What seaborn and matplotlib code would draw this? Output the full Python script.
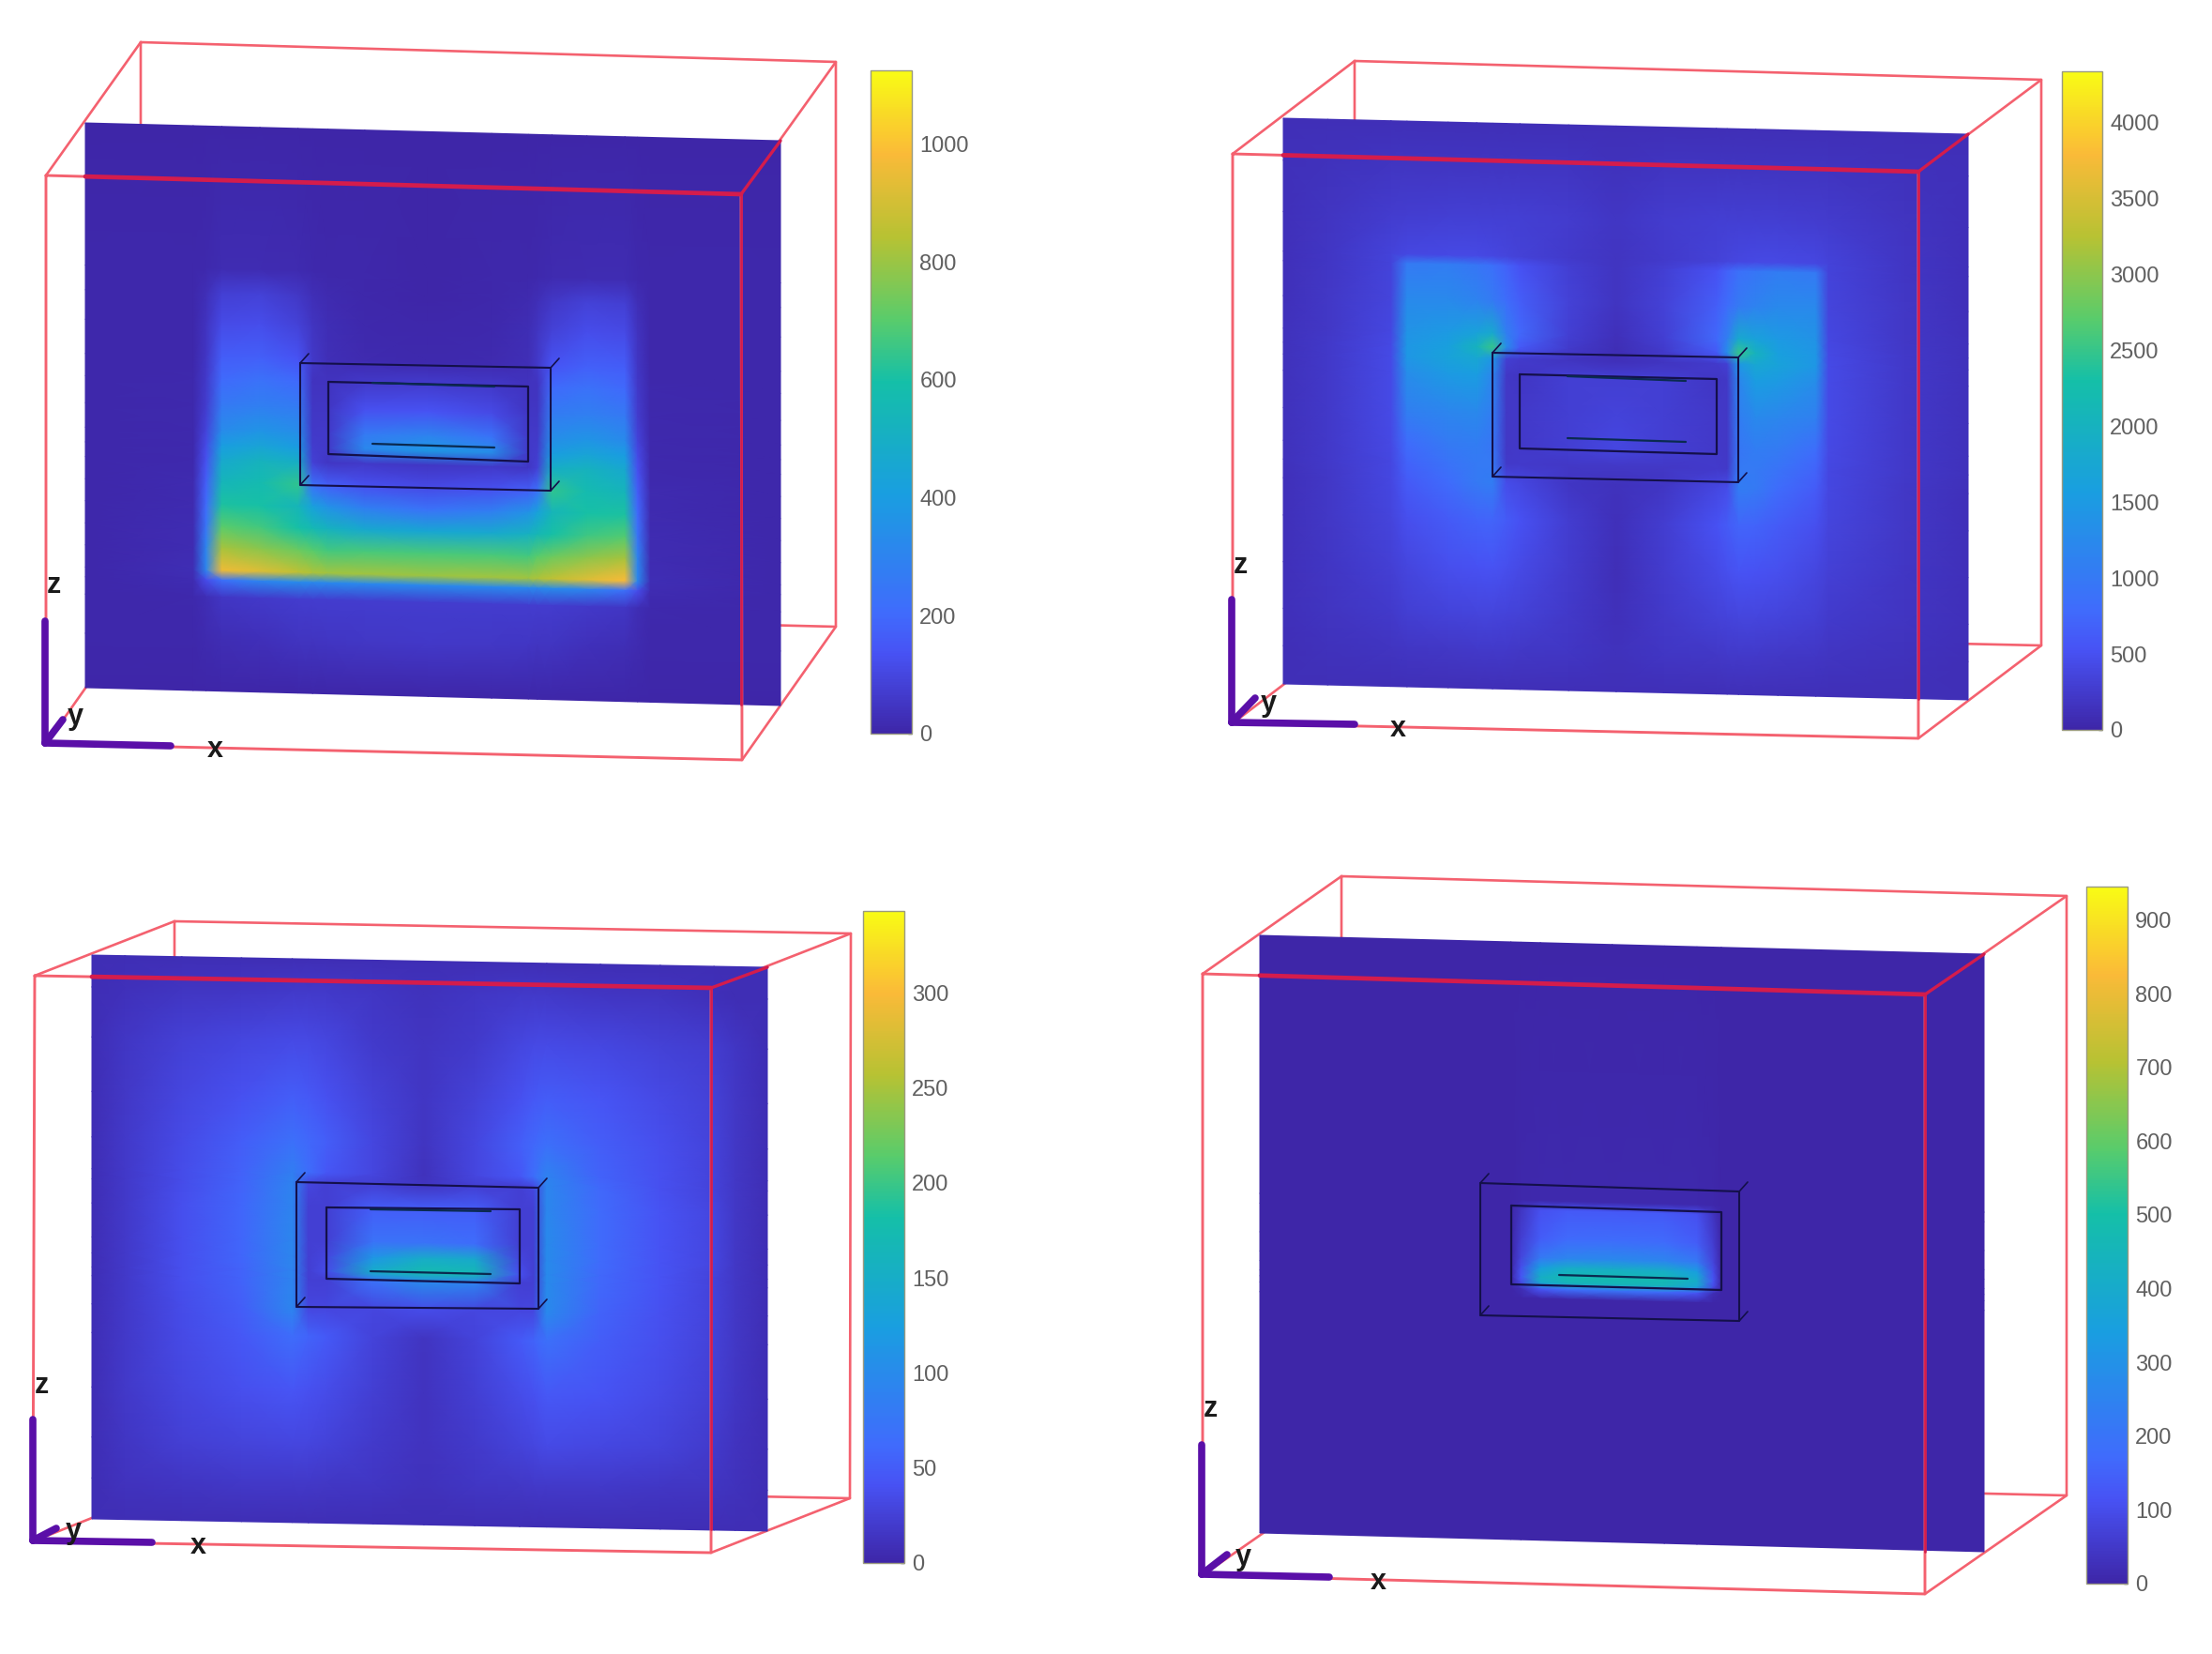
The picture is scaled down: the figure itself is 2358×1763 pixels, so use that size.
import matplotlib
matplotlib.use("Agg")
import matplotlib.pyplot as plt
import matplotlib.transforms as mtransforms
from matplotlib.colors import LinearSegmentedColormap
import numpy as np
import seaborn as sns

# 1. DATA (fields, rows top to bottom, sample spots in slice units)
p1_x = [0, 170, 190, 215, 275, 335, 358, 382, 440, 540, 640, 698, 712, 735, 790, 850, 870, 890, 1095]
p1_z = [0, 290, 340, 400, 470, 515, 570, 620, 650, 680, 725, 770, 815, 860, 905, 925, 960, 1040, 1151]
p1_field = [
    [3, 3, 3, 3, 3, 3, 3, 3, 3, 3, 3, 3, 3, 3, 3, 3, 3, 3, 3],
    [5, 8, 12, 20, 20, 14, 10, 8, 5, 3, 5, 8, 10, 14, 20, 20, 12, 8, 5],
    [5, 8, 30, 75, 85, 55, 30, 15, 5, 3, 5, 15, 30, 55, 85, 75, 30, 8, 5],
    [5, 8, 40, 110, 120, 85, 45, 25, 10, 5, 10, 25, 45, 85, 120, 110, 40, 8, 5],
    [5, 8, 50, 165, 175, 140, 60, 30, 15, 10, 15, 30, 60, 140, 175, 165, 50, 8, 5],
    [5, 10, 60, 200, 230, 200, 40, 40, 60, 70, 60, 40, 40, 200, 230, 200, 60, 10, 5],
    [5, 10, 70, 260, 290, 270, 50, 50, 130, 140, 110, 50, 50, 270, 290, 260, 70, 10, 5],
    [5, 10, 90, 330, 370, 340, 60, 60, 260, 300, 240, 60, 60, 340, 370, 330, 90, 10, 5],
    [5, 10, 110, 400, 440, 400, 70, 60, 320, 380, 340, 60, 70, 400, 440, 400, 110, 10, 5],
    [5, 12, 130, 470, 520, 500, 80, 50, 60, 50, 60, 50, 80, 500, 520, 470, 130, 12, 5],
    [5, 15, 170, 540, 570, 640, 220, 170, 130, 110, 130, 170, 220, 640, 570, 540, 170, 15, 5],
    [5, 15, 200, 610, 600, 540, 420, 360, 280, 230, 280, 360, 420, 540, 600, 610, 200, 15, 5],
    [5, 18, 240, 700, 670, 600, 560, 520, 470, 450, 470, 510, 550, 600, 660, 690, 240, 18, 5],
    [5, 20, 300, 820, 780, 730, 700, 670, 680, 680, 680, 670, 700, 730, 780, 820, 300, 20, 5],
    [5, 25, 300, 960, 920, 860, 830, 810, 810, 800, 810, 810, 830, 860, 920, 980, 320, 25, 5],
    [5, 20, 120, 220, 300, 330, 320, 320, 320, 320, 320, 320, 320, 330, 300, 220, 120, 20, 5],
    [5, 10, 25, 50, 60, 70, 70, 70, 70, 70, 70, 70, 70, 70, 60, 50, 25, 10, 5],
    [5, 8, 15, 25, 35, 45, 48, 50, 55, 60, 55, 50, 48, 45, 35, 25, 15, 8, 5],
    [3, 3, 3, 3, 3, 3, 3, 3, 3, 3, 3, 3, 3, 3, 3, 3, 3, 3, 3],
]
p1_vmax = 1125
p1_ticks = [0, 200, 400, 600, 800, 1000]

p2_x = [0, 70, 170, 195, 260, 305, 330, 352, 373, 450, 525, 600, 683, 700, 718, 745, 780, 840, 860, 980, 1080]
p2_z = [0, 90, 200, 285, 305, 380, 450, 480, 505, 540, 620, 690, 730, 770, 850, 950, 1050, 1130, 1212]
p2_field = [
    [110, 110, 110, 110, 110, 110, 110, 110, 110, 110, 110, 110, 110, 110, 110, 110, 110, 110, 110, 110, 110],
    [120, 150, 170, 175, 180, 180, 180, 178, 175, 170, 150, 170, 175, 178, 180, 180, 180, 175, 170, 150, 120],
    [130, 180, 260, 280, 300, 300, 300, 295, 290, 260, 200, 260, 290, 295, 300, 300, 300, 280, 260, 180, 130],
    [130, 200, 340, 400, 420, 410, 400, 370, 330, 250, 180, 250, 330, 370, 400, 410, 420, 400, 340, 200, 130],
    [130, 200, 340, 1000, 1050, 950, 850, 680, 520, 290, 170, 290, 520, 680, 850, 950, 1050, 1000, 340, 200, 130],
    [130, 210, 370, 1250, 1250, 1150, 1000, 820, 650, 330, 170, 330, 650, 820, 1000, 1150, 1250, 1250, 370, 210, 130],
    [140, 220, 400, 1400, 1500, 1650, 1800, 1100, 750, 300, 130, 300, 750, 1100, 1800, 1650, 1500, 1400, 400, 220, 140],
    [140, 230, 420, 1450, 1600, 2000, 2500, 1300, 600, 250, 100, 250, 600, 1300, 2500, 2000, 1600, 1450, 420, 230, 140],
    [140, 230, 430, 1450, 1650, 1750, 1450, 300, 250, 170, 120, 170, 250, 300, 1450, 1750, 1650, 1450, 430, 230, 140],
    [140, 230, 440, 1300, 1500, 1550, 1200, 220, 200, 300, 300, 300, 200, 220, 1200, 1550, 1500, 1300, 440, 230, 140],
    [140, 230, 440, 1100, 1200, 1250, 1050, 220, 230, 300, 350, 300, 230, 220, 1050, 1250, 1200, 1100, 440, 230, 140],
    [140, 230, 420, 800, 1000, 1050, 950, 220, 230, 300, 400, 300, 230, 220, 950, 1050, 1000, 800, 420, 230, 140],
    [140, 230, 400, 700, 900, 1000, 1000, 230, 250, 220, 220, 220, 250, 230, 1000, 1000, 900, 700, 400, 230, 140],
    [130, 220, 390, 620, 800, 1000, 1050, 450, 400, 200, 150, 200, 400, 450, 1050, 1000, 800, 620, 390, 220, 130],
    [130, 210, 360, 480, 620, 700, 720, 620, 520, 280, 120, 280, 520, 620, 720, 700, 620, 480, 360, 210, 130],
    [125, 190, 310, 380, 480, 520, 530, 490, 440, 260, 110, 260, 440, 490, 530, 520, 480, 380, 310, 190, 125],
    [120, 170, 250, 300, 340, 360, 370, 350, 330, 230, 130, 230, 330, 350, 370, 360, 340, 300, 250, 170, 120],
    [115, 150, 180, 200, 220, 225, 230, 225, 220, 190, 140, 190, 220, 225, 230, 225, 220, 200, 180, 150, 115],
    [110, 110, 110, 110, 110, 110, 110, 110, 110, 110, 110, 110, 110, 110, 110, 110, 110, 110, 110, 110, 110],
]
p2_vmax = 4335
p2_ticks = [0, 500, 1000, 1500, 2000, 2500, 3000, 3500, 4000]

p3_x = [0, 55, 150, 250, 335, 362, 392, 470, 555, 640, 715, 738, 760, 850, 950, 1040, 1075, 1129]
p3_z = [0, 70, 180, 300, 400, 470, 492, 545, 620, 655, 686, 705, 767, 830, 950, 1060, 1150, 1240]
p3_field = [
    [8, 8, 8, 8, 8, 8, 8, 8, 8, 8, 8, 8, 8, 8, 8, 8, 8, 8],
    [8, 10, 14, 16, 18, 18, 18, 16, 12, 16, 18, 18, 18, 16, 14, 10, 8, 8],
    [8, 15, 25, 30, 34, 33, 30, 20, 14, 20, 30, 33, 34, 32, 26, 22, 15, 8],
    [8, 17, 30, 40, 50, 46, 40, 26, 15, 26, 40, 46, 50, 44, 34, 26, 17, 8],
    [8, 18, 34, 50, 68, 60, 52, 30, 14, 30, 52, 60, 68, 52, 38, 28, 17, 8],
    [8, 18, 36, 54, 85, 65, 45, 30, 12, 30, 45, 65, 90, 56, 40, 28, 17, 8],
    [8, 18, 36, 56, 90, 30, 24, 24, 14, 24, 24, 30, 95, 60, 40, 28, 17, 8],
    [8, 18, 38, 58, 92, 24, 24, 50, 50, 50, 24, 24, 96, 62, 42, 30, 17, 8],
    [8, 18, 38, 58, 95, 24, 24, 72, 72, 65, 24, 24, 100, 62, 42, 30, 17, 8],
    [8, 18, 38, 58, 95, 24, 30, 115, 150, 145, 30, 24, 100, 62, 42, 30, 17, 8],
    [8, 18, 38, 56, 92, 24, 35, 150, 175, 170, 40, 24, 100, 60, 42, 28, 17, 8],
    [8, 18, 38, 56, 92, 24, 24, 70, 100, 90, 24, 24, 100, 60, 42, 28, 17, 8],
    [8, 18, 36, 52, 95, 30, 30, 30, 35, 30, 30, 30, 98, 56, 40, 28, 17, 8],
    [8, 18, 34, 46, 65, 55, 48, 28, 14, 28, 48, 55, 68, 50, 38, 26, 17, 8],
    [8, 18, 30, 38, 44, 40, 36, 24, 13, 24, 36, 40, 46, 42, 34, 24, 15, 8],
    [8, 16, 25, 29, 32, 30, 28, 20, 13, 20, 28, 30, 34, 32, 27, 20, 13, 8],
    [8, 13, 16, 18, 18, 18, 17, 15, 12, 15, 17, 18, 18, 18, 16, 14, 11, 8],
    [8, 8, 8, 8, 8, 8, 8, 8, 8, 8, 8, 8, 8, 8, 8, 8, 8, 8],
]
p3_vmax = 343
p3_ticks = [0, 50, 100, 150, 200, 250, 300]

p4_x = [0, 385, 400, 430, 470, 540, 620, 670, 695, 707, 1110]
p4_z = [0, 540, 560, 620, 660, 680, 700, 712, 725, 745, 1250]
p4_field = [
    [3, 3, 3, 3, 3, 3, 3, 3, 3, 3, 3],
    [3, 3, 5, 10, 10, 10, 10, 10, 5, 3, 3],
    [3, 3, 40, 110, 130, 130, 130, 110, 40, 3, 3],
    [3, 3, 60, 140, 170, 180, 170, 140, 60, 3, 3],
    [3, 3, 80, 220, 260, 270, 260, 220, 80, 3, 3],
    [3, 3, 100, 340, 410, 420, 410, 340, 100, 3, 3],
    [3, 3, 120, 420, 470, 480, 470, 410, 120, 3, 3],
    [3, 3, 90, 390, 440, 450, 440, 370, 90, 3, 3],
    [3, 3, 20, 120, 180, 200, 180, 120, 20, 3, 3],
    [3, 3, 3, 3, 3, 3, 3, 3, 3, 3, 3],
    [3, 3, 3, 3, 3, 3, 3, 3, 3, 3, 3],
]
p4_vmax = 945
p4_ticks = [0, 100, 200, 300, 400, 500, 600, 700, 800, 900]

# wire frames on the page: corners go top left, top right, bottom right, bottom left
p1_slice = [(91, 131), (832, 150), (832, 752), (91, 733)]
p1_front = [(49, 187), (790, 207), (791, 810), (49, 793)]
p1_back = [(150, 45), (891, 66), (891, 668), (150, 650)]
p1_outer = [(320, 387), (587, 392), (587, 523), (320, 517)]
p1_inner = [(350, 407), (563, 412), (563, 492), (350, 484)]
p1_strips = [[(397, 473), (527, 477)], [(397, 408), (527, 412)]]
p1_triad = [(48, 792), (48, 662), (182, 795), (67, 767)]
p1_letters = [(57, 624), (80, 764), (229, 799)]
p1_cbar = [928, 75, 972, 782]

p2_slice = [(1368, 126), (2098, 143), (2098, 746), (1368, 729)]
p2_front = [(1314, 164), (2045, 183), (2045, 787), (1314, 771)]
p2_back = [(1444, 65), (2176, 85), (2176, 688), (1444, 672)]
p2_outer = [(1591, 376), (1853, 381), (1853, 514), (1591, 508)]
p2_inner = [(1620, 399), (1830, 404), (1830, 484), (1620, 478)]
p2_strips = [[(1671, 467), (1797, 471)], [(1671, 401), (1797, 406)]]
p2_triad = [(1313, 770), (1313, 639), (1444, 772), (1338, 744)]
p2_letters = [(1322, 603), (1352, 750), (1490, 777)]
p2_cbar = [2198, 76, 2241, 778]

p3_slice = [(98, 1018), (818, 1031), (818, 1631), (98, 1619)]
p3_front = [(37, 1040), (758, 1053), (758, 1655), (35, 1643)]
p3_back = [(186, 982), (907, 995), (906, 1597), (186, 1583)]
p3_outer = [(316, 1260), (574, 1266), (574, 1395), (316, 1393)]
p3_inner = [(348, 1287), (554, 1289), (554, 1368), (348, 1363)]
p3_strips = [[(395, 1355), (523, 1358)], [(395, 1289), (523, 1291)]]
p3_triad = [(35, 1642), (35, 1513), (162, 1644), (60, 1629)]
p3_letters = [(44, 1477), (78, 1632), (211, 1648)]
p3_cbar = [920, 971, 964, 1666]

p4_slice = [(1343, 997), (2115, 1017), (2115, 1656), (1343, 1634)]
p4_front = [(1282, 1038), (2052, 1060), (2052, 1699), (1282, 1679)]
p4_back = [(1430, 934), (2203, 955), (2203, 1594), (1430, 1576)]
p4_outer = [(1578, 1261), (1854, 1270), (1854, 1408), (1578, 1402)]
p4_inner = [(1611, 1285), (1835, 1292), (1835, 1375), (1611, 1369)]
p4_strips = [[(1662, 1359), (1799, 1363)]]
p4_triad = [(1281, 1678), (1281, 1540), (1417, 1681), (1308, 1657)]
p4_letters = [(1290, 1502), (1325, 1660), (1469, 1686)]
p4_cbar = [2224, 945, 2268, 1688]

# parula-like colours seen on the colour bars
bar_colors = [
    (0.0, (0.2422, 0.1504, 0.6603)), (0.12, (0.2810, 0.3228, 0.9579)),
    (0.18, (0.25, 0.42, 0.99)), (0.36, (0.10, 0.62, 0.88)),
    (0.53, (0.08, 0.75, 0.66)), (0.625, (0.35, 0.80, 0.42)),
    (0.75, (0.72, 0.76, 0.20)), (0.875, (0.98, 0.73, 0.22)),
    (1.0, (0.976, 0.984, 0.08)),
]
parula = LinearSegmentedColormap.from_list("parula_like", bar_colors, N=256)

RED = "#F4616F"
CRIMSON = "#D41C4C"
PURPLE = "#5A0FA8"
W, H = 2358, 1763


class SliceTransform(mtransforms.Transform):
    # sends heatmap cell numbers onto the slanted slice on the page
    input_dims = 2
    output_dims = 2
    is_separable = False

    def __init__(self, xs, zs, corners):
        super().__init__()
        self.u = np.array(xs, float) / xs[-1]
        self.v = np.array(zs, float) / zs[-1]
        self.tl, self.tr, _, self.bl = [np.array(c, float) for c in corners]

    def transform_non_affine(self, values):
        values = np.asarray(values, float)
        u = np.interp(values[:, 0], np.arange(len(self.u)), self.u)
        v = np.interp(values[:, 1], np.arange(len(self.v)), self.v)
        return self.tl + np.outer(u, self.tr - self.tl) + np.outer(v, self.bl - self.tl)


sns.set_theme(style="white")
plt.rcParams["font.family"] = ["Liberation Sans", "DejaVu Sans"]

fig = plt.figure(figsize=(W / 100, H / 100), dpi=100, facecolor="white")
ax = fig.add_axes([0, 0, 1, 1])


def wire(points, closed=True, **kw):
    pts = list(points) + ([points[0]] if closed else [])
    ax.plot([p[0] for p in pts], [p[1] for p in pts], solid_capstyle="round", **kw)


def draw_panel(xs, zs, field, vmax, ticks, slc, front, back, outer, inner, strips, triad, letters, cbar):
    # red box parts that sit behind the slice
    wire(back, color=RED, lw=1.9, zorder=1)
    for a, b in zip(front, back):
        wire([a, b], closed=False, color=RED, lw=1.9, zorder=1)

    l, t, r, b = cbar
    cax = fig.add_axes([l / W, 1 - b / H, (r - l) / W, (b - t) / H])
    sns.heatmap(np.array(field, float), ax=ax, cmap=parula, vmin=0, vmax=vmax,
                shading="gouraud", zorder=2,
                transform=SliceTransform(xs, zs, slc) + ax.transData,
                xticklabels=False, yticklabels=False,
                cbar_ax=cax, cbar_kws={"ticks": ticks})
    cax.tick_params(direction="in", length=3, width=1, color="#444444", right=True,
                    labelsize=17, labelcolor="#606060", pad=6)
    bar = ax.collections[-1].colorbar
    bar.outline.set_linewidth(1)
    bar.outline.set_edgecolor("#9A9A80")

    # red box parts in front of the slice: darker where they cross it
    wire(front, color=RED, lw=2.1, zorder=3)
    edge = (slc[0][0] - front[0][0]) / (front[1][0] - front[0][0])
    start = (slc[0][0], front[0][1] + edge * (front[1][1] - front[0][1]))
    wire([start, front[1]], closed=False, color=CRIMSON, lw=3.4, zorder=3)
    edge = (front[1][0] - slc[3][0]) / (slc[2][0] - slc[3][0])
    wire([front[1], (front[1][0], slc[3][1] + edge * (slc[2][1] - slc[3][1]))], closed=False,
         color=CRIMSON, lw=1.9, zorder=3)
    wire([front[1], slc[1]], closed=False, color=CRIMSON, lw=2.4, zorder=3)

    # black coil frame
    wire(outer, color="#14104A", lw=1.5, zorder=4)
    wire(inner, color="#14104A", lw=1.6, zorder=4)
    for seg in strips:
        wire(seg, closed=False, color="#0A2A50", lw=1.6, zorder=4)
    for c in outer:
        wire([c, (c[0] + 9, c[1] - 10)], closed=False, color="#14104A", lw=1.2, zorder=4)

    # axis triad
    for end in triad[1:]:
        wire([triad[0], end], closed=False, color=PURPLE, lw=5.5, zorder=5)
    for name, pos in zip(["z", "y", "x"], letters):
        ax.text(pos[0], pos[1], name, ha="center", va="center", fontsize=22,
                fontweight="bold", color="#1A1A1A", zorder=6)


# 2. PANELS
draw_panel(p1_x, p1_z, p1_field, p1_vmax, p1_ticks, p1_slice, p1_front, p1_back,
           p1_outer, p1_inner, p1_strips, p1_triad, p1_letters, p1_cbar)
draw_panel(p2_x, p2_z, p2_field, p2_vmax, p2_ticks, p2_slice, p2_front, p2_back,
           p2_outer, p2_inner, p2_strips, p2_triad, p2_letters, p2_cbar)
draw_panel(p3_x, p3_z, p3_field, p3_vmax, p3_ticks, p3_slice, p3_front, p3_back,
           p3_outer, p3_inner, p3_strips, p3_triad, p3_letters, p3_cbar)
draw_panel(p4_x, p4_z, p4_field, p4_vmax, p4_ticks, p4_slice, p4_front, p4_back,
           p4_outer, p4_inner, p4_strips, p4_triad, p4_letters, p4_cbar)

# heatmap resets the limits each time, so the page scale goes back on last
ax.set_xlim(0, W)
ax.set_ylim(H, 0)
ax.axis("off")

fig.savefig("out.png", dpi=100)
